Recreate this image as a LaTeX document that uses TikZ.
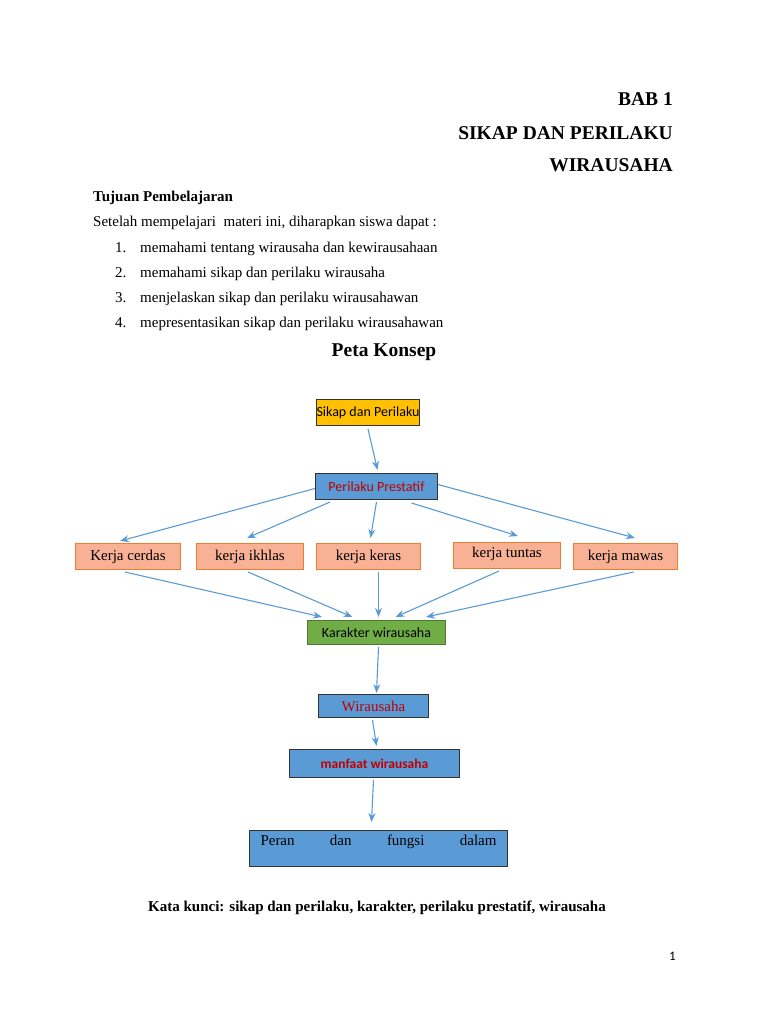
\documentclass[tikz,border=0pt]{standalone}
\usepackage{fontspec}
\setmainfont{Liberation Serif}
\newfontfamily\calfont{Carlito}
\usetikzlibrary{arrows.meta}
\definecolor{ablue}{HTML}{5B9BD5}
\definecolor{bfill}{HTML}{5B9BD5}
\definecolor{dred}{HTML}{C00000}
\definecolor{gold}{HTML}{FFC000}
\definecolor{grn}{HTML}{70AD47}
\definecolor{salm}{HTML}{F8B195}
\definecolor{org}{HTML}{ED7D31}
\begin{document}
\begin{tikzpicture}[x=1pt,y=-1pt,
 box/.style={draw=#1,line width=1pt,inner sep=0pt,anchor=north west},
 kerja/.style={box=org,fill=salm,font=\fontsize{15}{17}\selectfont},
 bfont/.style={font=\calfont\fontsize{14}{16}\selectfont},
 arr/.style={draw=ablue,line width=1.1pt,-{Stealth[length=9pt,width=7pt]}},
 txt/.style={anchor=base west,inner sep=0pt,font=\fontsize{15}{17}\selectfont}]
\useasboundingbox (0,0) rectangle (768,1024);
\node[anchor=base east,inner sep=0pt,font=\fontsize{19.5}{22}\bfseries] (t1) at (673,106) {BAB 1};
\node[anchor=base east,inner sep=0pt,font=\fontsize{19.5}{22}\bfseries] (t2) at (673,140) {SIKAP DAN PERILAKU};
\node[anchor=base east,inner sep=0pt,font=\fontsize{19.5}{22}\bfseries] (t3) at (673,172) {WIRAUSAHA};
\node[txt,font=\fontsize{15}{17}\bfseries] (tp) at (93,202) {Tujuan Pembelajaran};
\node[txt] (st) at (93,226) {Setelah mempelajari\ \ materi ini, diharapkan siswa dapat :};
\node[txt] (n1) at (115,252) {1.}; \node[txt] (l1) at (140,252) {memahami tentang wirausaha dan kewirausahaan};
\node[txt] (n2) at (115,277) {2.}; \node[txt] (l2) at (140,277) {memahami sikap dan perilaku wirausaha};
\node[txt] (n3) at (115,302) {3.}; \node[txt] (l3) at (140,302) {menjelaskan sikap dan perilaku wirausahawan};
\node[txt] (n4) at (115,327) {4.}; \node[txt] (l4) at (140,327) {mepresentasikan sikap dan perilaku wirausahawan};
\node[anchor=base,inner sep=0pt,font=\fontsize{19.5}{22}\bfseries] (pk) at (384,356) {Peta Konsep};

\node[box=black!80,fill=gold,minimum width=100pt,minimum height=26pt,bfont] (sp) at (316,399) {Sikap dan Perilaku};
\node[box=black!80,fill=bfill,minimum width=122pt,minimum height=26pt,bfont,text=dred] (pp) at (315,473) {Perilaku Prestatif};
\node[kerja,minimum width=105pt,minimum height=26pt] (k1) at (75,543) {Kerja cerdas};
\node[kerja,minimum width=107pt,minimum height=26pt] (k2) at (196,543) {kerja ikhlas};
\node[kerja,minimum width=104pt,minimum height=26pt] (k3) at (316,543) {kerja keras};
\node[kerja,minimum width=107pt,minimum height=26pt,text depth=7pt] (k4) at (453,542) {kerja tuntas};
\node[kerja,minimum width=104pt,minimum height=26pt] (k5) at (573,543) {kerja mawas};
\node[box=grn!70!black,fill=grn,minimum width=138pt,minimum height=24pt,bfont] (kw) at (307,620) {Karakter wirausaha};
\node[box=black!80,fill=bfill,minimum width=110pt,minimum height=23pt,font=\fontsize{15}{17}\selectfont,text=dred] (wr) at (318,694) {Wirausaha};
\node[box=black!80,fill=bfill,minimum width=170pt,minimum height=28pt,font=\calfont\bfseries\fontsize{13.5}{16}\selectfont,text=dred] (mw) at (289,749) {manfaat wirausaha};
\node[box=black!80,fill=bfill,minimum width=258pt,minimum height=36pt,font=\fontsize{15}{17}\selectfont,text depth=16pt] (pf) at (249,830) {\makebox[236pt][s]{Peran\hfill dan\hfill fungsi\hfill dalam}};

\draw[arr] ([yshift=-3pt]sp.south) -- ([xshift=1pt,yshift=3pt]pp.north);
\draw[arr] ([yshift=-2pt]pp.west) -- ([xshift=45pt,yshift=2pt]k1.north west);
\draw[arr] ([xshift=15pt,yshift=-2pt]pp.south west) -- ([xshift=-3pt,yshift=5pt]k2.north);
\draw[arr] ([yshift=-2pt]pp.south) -- ([xshift=2pt,yshift=5pt]k3.north);
\draw[arr] ([xshift=35pt,yshift=-3pt]pp.south) -- ([xshift=-43pt,yshift=6pt]k4.north east);
\draw[arr] ([yshift=2pt]pp.east) -- ([xshift=-43pt,yshift=5pt]k5.north east);
\draw[arr] ([xshift=-3pt,yshift=-2pt]k1.south) -- ([xshift=15pt,yshift=3pt]kw.north west);
\draw[arr] ([xshift=-2pt,yshift=-2pt]k2.south) -- ([xshift=-24pt,yshift=3pt]kw.north);
\draw[arr] ([xshift=10pt,yshift=-2pt]k3.south) -- ([xshift=2pt,yshift=3pt]kw.north);
\draw[arr] ([xshift=-8pt,yshift=-2pt]k4.south) -- ([xshift=19pt,yshift=3pt]kw.north);
\draw[arr] ([xshift=8pt,yshift=-2pt]k5.south) -- ([xshift=-20pt,yshift=3pt]kw.north east);
\draw[arr] ([xshift=2pt,yshift=-2pt]kw.south) -- ([xshift=3pt,yshift=1pt]wr.north);
\draw[arr] ([xshift=-1pt,yshift=-2pt]wr.south) -- ([xshift=2pt,yshift=3pt]mw.north);
\draw[arr] ([xshift=-1pt,yshift=-2pt]mw.south) -- ([xshift=-7pt,yshift=8pt]pf.north);

\node[txt,font=\fontsize{15}{17}\bfseries] (kk) at (148,911) {Kata kunci: sikap dan perilaku, karakter, perilaku prestatif, wirausaha};
\node[anchor=base east,inner sep=0pt,font=\calfont\fontsize{13}{15}\selectfont] (pg) at (676,960) {1};
\end{tikzpicture}
\end{document}
